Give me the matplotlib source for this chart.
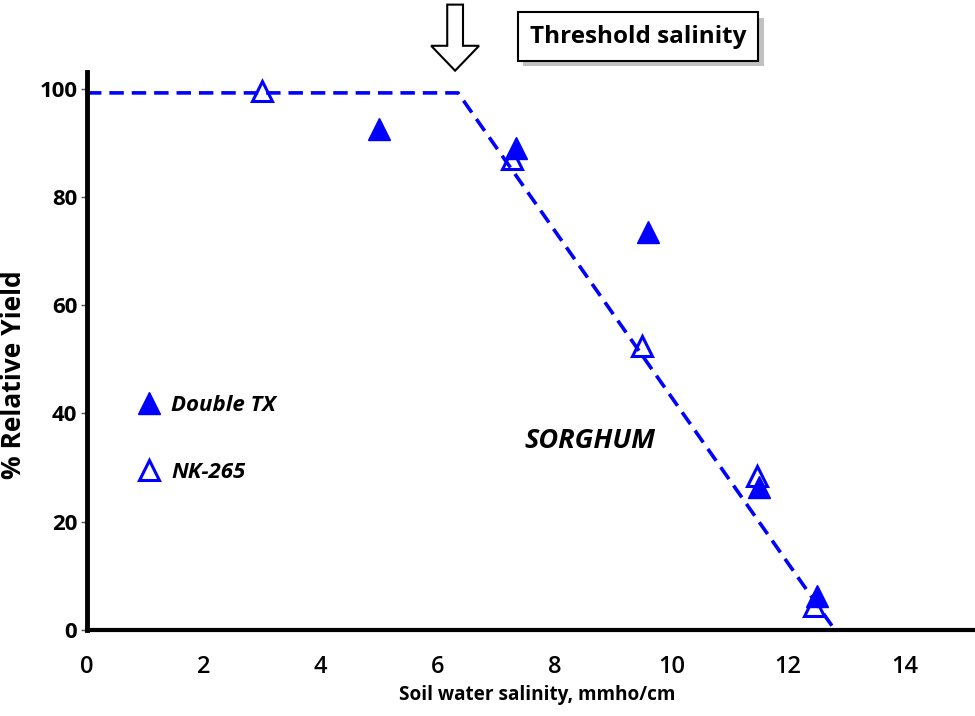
import matplotlib
matplotlib.use("Agg")
import matplotlib.pyplot as plt
from matplotlib.patches import FancyArrow
from matplotlib import patheffects as pe

plt.rcParams['font.family'] = ['Open Sans', 'DejaVu Sans']

# data
double_tx_x = [5.0, 7.35, 9.6, 11.5, 12.5]
double_tx_y = [92.5, 89.0, 73.5, 26.5, 6.3]
nk265_x = [3.0, 7.28, 9.5, 11.47, 12.45]
nk265_y = [99.5, 87.0, 52.5, 28.5, 4.5]
# threshold (piecewise) response line
line_x = [0.0, 6.35, 12.8]
line_y = [99.2, 99.2, 0.0]
xticks = [0, 2, 4, 6, 8, 10, 12, 14]
yticks = [0, 20, 40, 60, 80, 100]

blue = '#0000ff'

fig = plt.figure(figsize=(9.75, 7.16), dpi=100)
ax = fig.add_axes([0.0892, 0.12, 0.911, 0.779])

ax.plot(line_x, line_y, color=blue, lw=2.6, ls=(0, (4, 2.2)), zorder=2)
ax.plot(double_tx_x, double_tx_y, ls='none', marker='^', ms=16, color=blue,
        mec=blue, label='Double TX', zorder=3)
ax.plot(nk265_x, nk265_y, ls='none', marker='^', ms=15, mfc='none', mec=blue,
        mew=2.2, label='NK-265', zorder=3)

ax.set_xlim(0, 15.2)
ax.set_ylim(0, 103)
ax.set_xticks(xticks)
ax.set_yticks(yticks)
ax.tick_params(axis='x', length=0, pad=18)
ax.tick_params(axis='y', length=4, width=1, color='#555555', labelsize=16, pad=3)
for lab in ax.get_yticklabels():
    lab.set_fontweight('bold')
for lab in ax.get_xticklabels():
    lab.set_fontsize(17)
    lab.set_fontweight('semibold')

ax.spines['top'].set_visible(False)
ax.spines['right'].set_visible(False)
ax.spines['left'].set_linewidth(3.5)
ax.spines['bottom'].set_linewidth(3)

ax.set_xlabel('Soil water salinity, mmho/cm', fontsize=13.7, fontweight='bold', labelpad=4)
ax.set_ylabel('% Relative Yield', fontsize=19, fontweight='bold')
ax.yaxis.set_label_coords(-0.067, 0.457)
ax.xaxis.label.set_x(0.507)

leg = ax.legend(loc='upper left', bbox_to_anchor=(0.035, 0.457), frameon=False,
                handlelength=1.0, handletextpad=0.5, labelspacing=2.05,
                prop={'weight': 'bold', 'style': 'italic', 'size': 16})

ax.text(8.6, 35, 'SORGHUM', fontsize=19.5, fontweight='bold', style='italic',
        ha='center', va='center')

# threshold arrow
arr = FancyArrow(6.3, 115.5, 0, -12.2, width=0.27, head_width=0.82, head_length=4.6,
                 length_includes_head=True, fc='white', ec='black', lw=1.5,
                 clip_on=False, zorder=5)
ax.add_patch(arr)

box_txt = ax.text(9.43, 109.6, 'Threshold salinity', fontsize=17.5, fontweight='bold',
                  ha='center', va='center', clip_on=False,
                  bbox=dict(boxstyle='square,pad=0.5', fc='white', ec='black', lw=1.5))
box_txt.get_bbox_patch().set_path_effects(
    [pe.SimplePatchShadow(offset=(4, -4), shadow_rgbFace='#999999', alpha=0.6), pe.Normal()])

fig.savefig('out.png', dpi=100)
